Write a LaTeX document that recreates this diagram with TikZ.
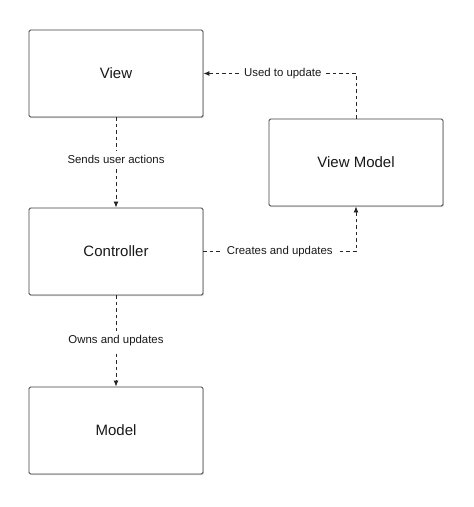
\documentclass[tikz,border=0pt]{standalone}
\usepackage{fontspec}
\setmainfont{Liberation Sans}
\usetikzlibrary{arrows.meta,shadows}
\begin{document}
\begin{tikzpicture}[x=1bp,y=-1bp,
  box/.style={draw=black!75, line width=0.9bp, fill=white, rounded corners=1.5bp,
    minimum width=174bp, minimum height=87bp, inner sep=0pt,
    font=\fontsize{15bp}{18bp}\selectfont, text=black!90,
    drop shadow={shadow xshift=0.8bp, shadow yshift=-1.2bp, opacity=0.25, fill=black!60}},
  conn/.style={draw=black!85, line width=0.9bp, dash pattern=on 3.5bp off 3bp,
    -{Latex[length=6bp,width=5bp]}},
  lbl/.style={fill=white, inner xsep=4.5bp, inner ysep=5bp, text=black!90,
    font=\fontsize{11.4bp}{13bp}\selectfont}]
\useasboundingbox (0,0) rectangle (474,507);
\node[box] (view) at (116,73.5) {View};
\node[box] (ctrl) at (116,251.5) {Controller};
\node[box] (model) at (116,430.5) {Model};
\node[box] (vm) at (356,162.5) {View Model};
\draw[conn] (view.south) -- node[lbl, pos=0.47] {Sends user actions} (ctrl.north);
\draw[conn] (ctrl.south) -- node[lbl, pos=0.5] {Owns and updates} (model.north);
\draw[conn] (ctrl.east) -| node[lbl, pos=0.25] {Creates and updates} (vm.south);
\draw[conn] (vm.north) |- node[lbl, pos=0.74] {Used to update} (view.east);
\end{tikzpicture}
\end{document}
